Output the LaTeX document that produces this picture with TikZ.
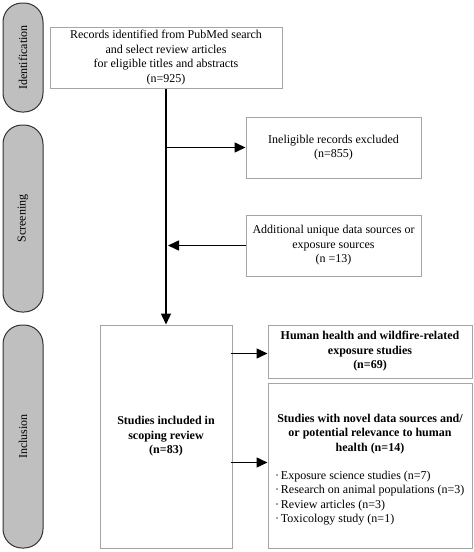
\documentclass[tikz,border=0pt]{standalone}
\usepackage{fontspec}
\setmainfont{Liberation Serif}
\usetikzlibrary{arrows.meta,calc}
\definecolor{pillfill}{RGB}{191,191,191}
\definecolor{pilledge}{RGB}{50,50,50}
\definecolor{boxedge}{RGB}{165,165,165}
\begin{document}
\begin{tikzpicture}[x=1pt,y=-1pt,
  font=\fontsize{12}{14.5}\selectfont,
  pill/.style={draw=pilledge, line width=1pt, fill=pillfill, rounded corners=19pt, rotate=90, minimum height=40pt, inner sep=0pt},
  box/.style={draw=boxedge, line width=1pt, fill=white, inner sep=0pt, align=center},
  flow/.style={line width=1.5pt, -{Triangle[length=11pt,width=10pt]}}]
\useasboundingbox (0,0) rectangle (474,552);
% phase pills
\node[pill, minimum width=109pt] (pid) at (23,57.5) {Identification};
\node[pill, minimum width=187pt] (pscr) at (23,218.5) {Screening};
\node[pill, minimum width=223pt] (pinc) at (23,436.5) {Inclusion};
% boxes
\node[box, minimum width=232pt, minimum height=61pt] (records) at (166,57.5)
  {Records identified from PubMed search\\and select review articles\\for eligible titles and abstracts\\(n=925)};
\node[box, minimum width=175pt, minimum height=61pt] (inelig) at (333.5,147.5)
  {Ineligible records excluded\\(n=855)};
\node[box, minimum width=175pt, minimum height=61pt] (addl) at (333.5,245.5)
  {Additional unique data sources or\\exposure sources\\(n =13)};
\node[box, minimum width=132pt, minimum height=223pt] (studies) at (166,436.5)
  {\bfseries Studies included in\\\bfseries scoping review\\\bfseries (n=83)};
\node[box, minimum width=204pt, minimum height=53pt] (human) at (370,351.5)
  {\bfseries Human health and wildfire-related\\\bfseries exposure studies\\\bfseries (n=69)};
\node[box, minimum width=204pt, minimum height=165pt, text width=190pt, align=flush left] (novel) at (370,465.5)
  {{\centering\bfseries \rule{0pt}{17pt}Studies with novel data sources and/\\or potential relevance to human\\health (n=14)\par}\vspace{13.5pt}%
   {\raggedright ·\,Exposure science studies (n=7)\\·\,Research on animal populations (n=3)\\·\,Review articles (n=3)\\·\,Toxicology study (n=1)\par}};
% connectors
\draw[flow] (records.south) -- (studies.north);
\draw[flow] (records.south |- inelig.west) -- (inelig.west);
\draw[flow] (addl.west) -- ($(records.south |- addl.west)+(2,0)$);
\draw[flow] ($(studies.east |- human.west)+(-2,2)$) -- ($(human.west)+(0,2)$);
\draw[flow] ($(studies.east |- novel.west)+(-2,-3)$) -- ($(novel.west)+(0,-3)$);
\end{tikzpicture}
\end{document}
